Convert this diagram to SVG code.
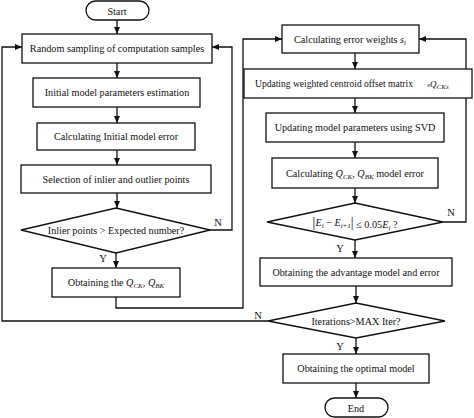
<svg xmlns="http://www.w3.org/2000/svg" width="474" height="418" viewBox="0 0 474 418">
<defs>
<marker id="ah" markerWidth="8" markerHeight="8" refX="7" refY="4" orient="auto" markerUnits="userSpaceOnUse">
<path d="M0,1 L7,4 L0,7 Z" fill="#111"/>
</marker>
<style>
.b{fill:#fff;stroke:#111;stroke-width:1.3}
.c{fill:none;stroke:#111;stroke-width:1.3}
.t{font-family:"Liberation Serif","Times New Roman",serif;font-size:10.2px;fill:#111;text-anchor:middle}
.l{font-family:"Liberation Serif","Times New Roman",serif;font-size:10.5px;fill:#111;text-anchor:middle}
.i{font-style:italic}
.s{font-size:7px;font-style:italic}
</style>
</defs>
<rect width="474" height="418" fill="#fff"/>
<g id="connectors">
<line class="c" x1="117" y1="20" x2="117" y2="34" marker-end="url(#ah)"/>
<line class="c" x1="117" y1="63" x2="117" y2="78" marker-end="url(#ah)"/>
<line class="c" x1="117" y1="107" x2="117" y2="123" marker-end="url(#ah)"/>
<line class="c" x1="117" y1="150" x2="117" y2="165" marker-end="url(#ah)"/>
<line class="c" x1="117" y1="193" x2="117" y2="208" marker-end="url(#ah)"/>
<polyline class="c" points="210,230 232,230 232,47 212,47" marker-end="url(#ah)"/>
<line class="c" x1="116" y1="253" x2="116" y2="268" marker-end="url(#ah)"/>
<polyline class="c" points="116,297 116,308 243,308 243,39 282,39" marker-end="url(#ah)"/>
<line class="c" x1="355" y1="53" x2="355" y2="69" marker-end="url(#ah)"/>
<line class="c" x1="355" y1="98" x2="355" y2="113" marker-end="url(#ah)"/>
<line class="c" x1="355" y1="142" x2="355" y2="158" marker-end="url(#ah)"/>
<line class="c" x1="355" y1="188" x2="355" y2="203" marker-end="url(#ah)"/>
<polyline class="c" points="443,222 466,222 466,39 419,39" marker-end="url(#ah)"/>
<line class="c" x1="355" y1="240" x2="355" y2="258" marker-end="url(#ah)"/>
<line class="c" x1="356" y1="286" x2="356" y2="303" marker-end="url(#ah)"/>
<polyline class="c" points="268,321 2,321 2,47 22,47" marker-end="url(#ah)"/>
<line class="c" x1="356" y1="338" x2="356" y2="354" marker-end="url(#ah)"/>
<line class="c" x1="356" y1="383" x2="356" y2="398" marker-end="url(#ah)"/>
<text class="l" x="218" y="226">N</text>
<text class="l" x="103" y="262">Y</text>
<text class="l" x="451" y="216">N</text>
<text class="l" x="340" y="252">Y</text>
<text class="l" x="258" y="319">N</text>
<text class="l" x="340" y="350">Y</text>
</g>
<g id="start"><rect class="b" x="86" y="1" width="63" height="19" rx="9.5"/><text class="t" x="117" y="14.5">Start</text></g>
<g id="n1"><rect class="b" x="22" y="34" width="190" height="29"/><text class="t" x="117" y="52">Random sampling of computation samples</text></g>
<g id="n2"><rect class="b" x="33" y="78" width="167" height="29"/><text class="t" x="117" y="96">Initial model parameters estimation</text></g>
<g id="n3"><rect class="b" x="37" y="123" width="158" height="27"/><text class="t" x="116" y="140">Calculating Initial model error</text></g>
<g id="n4"><rect class="b" x="21" y="165" width="190" height="28"/><text class="t" x="116" y="183">Selection of inlier and outlier points</text></g>
<g id="d1"><polygon class="b" points="116,208 210,230 116,253 21,230"/><text class="t" x="116" y="234">Inlier points &gt; Expected number?</text></g>
<g id="n5"><rect class="b" x="52" y="268" width="128" height="29"/><text class="t" x="116" y="286">Obtaining the <tspan class="i">Q</tspan><tspan class="s" dy="2">CK</tspan><tspan dy="-2">, </tspan><tspan class="i">Q</tspan><tspan class="s" dy="2">BK</tspan></text></g>
<g id="r1"><rect class="b" x="282" y="25" width="137" height="28"/><text class="t" x="350" y="43">Calculating error weights <tspan class="i">s</tspan><tspan class="s" dy="2">i</tspan></text></g>
<g id="r2"><rect class="b" x="244" y="69" width="228" height="29"/><text class="t" x="334" y="87" textLength="158" lengthAdjust="spacingAndGlyphs">Updating weighted centroid offset matrix</text><text class="t" x="438" y="87"><tspan class="s">s</tspan><tspan class="i" font-size="9">Q</tspan><tspan class="s" dy="1.5">CKs</tspan></text></g>
<g id="r3"><rect class="b" x="266" y="113" width="178" height="29"/><text class="t" x="355" y="131">Updating model parameters using SVD</text></g>
<g id="r4"><rect class="b" x="272" y="158" width="166" height="30"/><text class="t" x="355" y="177">Calculating <tspan class="i">Q</tspan><tspan class="s" dy="2">CK</tspan><tspan dy="-2">, </tspan><tspan class="i">Q</tspan><tspan class="s" dy="2">BK</tspan><tspan dy="-2"> model error</tspan></text></g>
<g id="d2"><polygon class="b" points="355,203 443,222 355,240 267,222"/><text class="t" x="355" y="226"><tspan font-size="14" dy="1">|</tspan><tspan class="i" dy="-1">E</tspan><tspan class="s" dy="2">i</tspan><tspan dy="-2"> − </tspan><tspan class="i">E</tspan><tspan class="s" dy="2">i+1</tspan><tspan font-size="14" dy="-1">|</tspan><tspan dy="1"> ≤ 0.05</tspan><tspan class="i">E</tspan><tspan class="s" dy="2">i</tspan><tspan dy="-2"> ?</tspan></text></g>
<g id="r5"><rect class="b" x="260" y="258" width="192" height="28"/><text class="t" x="356" y="276">Obtaining the advantage model and error</text></g>
<g id="d3"><polygon class="b" points="356,303 445,321 356,338 268,321"/><text class="t" x="356" y="325">Iterations&gt;MAX Iter?</text></g>
<g id="r6"><rect class="b" x="283" y="354" width="146" height="29"/><text class="t" x="356" y="372">Obtaining the optimal model</text></g>
<g id="end"><rect class="b" x="325" y="398" width="63" height="19" rx="9.5"/><text class="t" x="356" y="411.5">End</text></g>
</svg>
